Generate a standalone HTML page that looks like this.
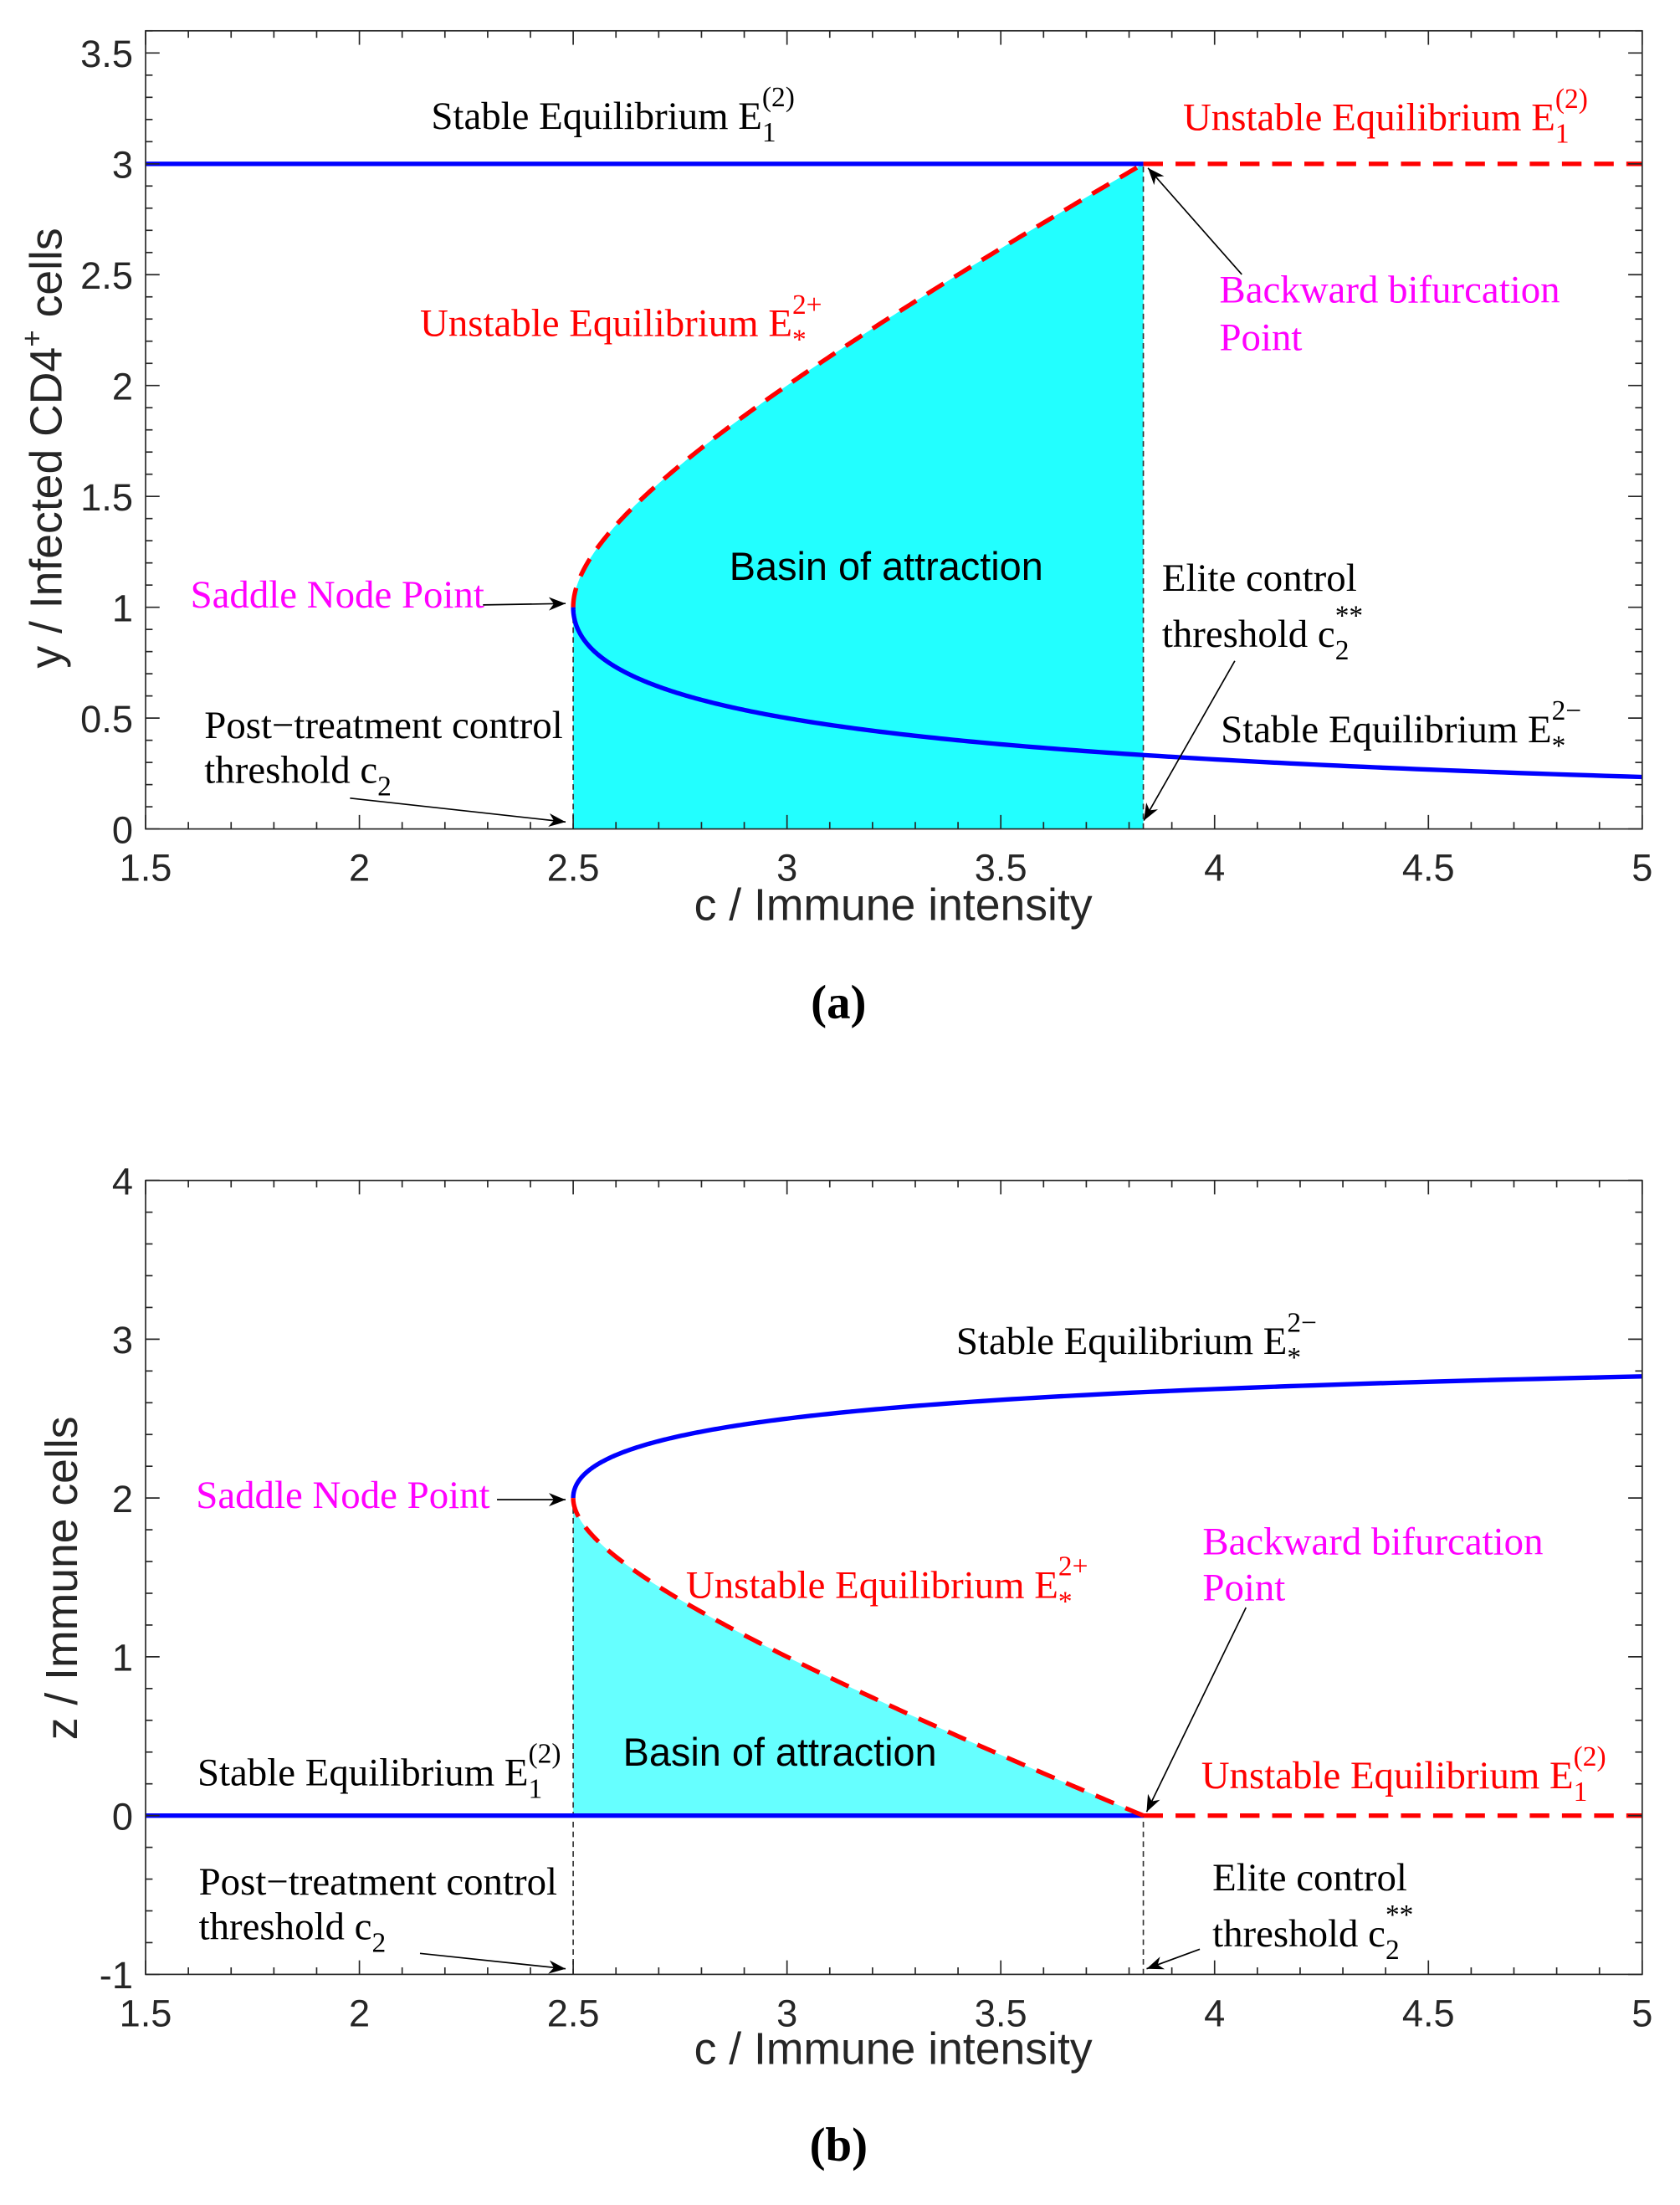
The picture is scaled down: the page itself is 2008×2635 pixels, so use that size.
<!DOCTYPE html>
<html><head><meta charset="utf-8">
<style>
html,body{margin:0;padding:0;background:#fff;}
svg{display:block;}
.tk{font-family:"Liberation Sans",sans-serif;font-size:27px;fill:#262626;}
.ax{font-family:"Liberation Sans",sans-serif;font-size:32px;fill:#262626;}
.sr{font-family:"Liberation Serif",serif;font-size:28px;}
.sub{font-size:20px;}
.ba{font-family:"Liberation Sans",sans-serif;font-size:28px;fill:#000;}
.cap{font-family:"Liberation Serif",serif;font-size:34px;font-weight:bold;}
</style></head>
<body>
<svg id="s" width="2008" height="2635" viewBox="0 0 1200 1574.7" xmlns="http://www.w3.org/2000/svg">
<defs>
<marker id="ar" viewBox="0 0 10 10" refX="10" refY="5" markerWidth="12" markerHeight="12" markerUnits="userSpaceOnUse" orient="auto">
<path d="M0,1 L10,5 L0,9 L3,5 z" fill="#000"/>
</marker>
</defs>
<g id="A"></g>
<g id="B"></g>

<text class="sr" x="308" y="92">Stable Equilibrium E<tspan class="sub" dy="9">1</tspan><tspan class="sub" dx="-10" dy="-25">(2)</tspan></text>
<text class="sr" x="845" y="93" fill="#f00">Unstable Equilibrium E<tspan class="sub" dy="9">1</tspan><tspan class="sub" dx="-10" dy="-25">(2)</tspan></text>
<text class="sr" x="871" y="216" fill="#f0f">Backward bifurcation</text>
<text class="sr" x="871" y="250" fill="#f0f">Point</text>
<text class="sr" x="300" y="240" fill="#f00">Unstable Equilibrium E<tspan class="sub" dy="9">*</tspan><tspan class="sub" dx="-10" dy="-25">2+</tspan></text>
<text class="ba" x="521" y="414">Basin of attraction</text>
<text class="sr" x="136" y="434" fill="#f0f">Saddle Node Point</text>
<text class="sr" x="830" y="422">Elite control</text>
<text class="sr" x="830" y="462">threshold c<tspan class="sub" dy="9">2</tspan><tspan class="sub" dx="-10" dy="-25">**</tspan></text>
<text class="sr" x="872" y="530">Stable Equilibrium E<tspan class="sub" dy="9">*</tspan><tspan class="sub" dx="-10" dy="-25">2−</tspan></text>
<text class="sr" x="146" y="527">Post−treatment control</text>
<text class="sr" x="146" y="559">threshold c<tspan class="sub" dy="9">2</tspan></text>
<g stroke="#000" stroke-width="1" fill="none" marker-end="url(#ar)">
<line x1="345" y1="432" x2="404" y2="431"/>
<line x1="250" y1="570" x2="404" y2="587"/>
<line x1="882" y1="472" x2="817" y2="586"/>
<line x1="887" y1="196" x2="820" y2="120"/>
</g>
<text class="ax" transform="translate(44,320) rotate(-90)" text-anchor="middle">y / Infected CD4<tspan font-size="21" dy="-14">+</tspan><tspan dy="14"> cells</tspan></text>
<text class="ax" x="638" y="657" text-anchor="middle">c / Immune intensity</text>
<text class="cap" x="599" y="727" text-anchor="middle">(a)</text>

<text class="sr" x="683" y="967">Stable Equilibrium E<tspan class="sub" dy="9">*</tspan><tspan class="sub" dx="-10" dy="-25">2−</tspan></text>
<text class="sr" x="140" y="1077" fill="#f0f">Saddle Node Point</text>
<text class="sr" x="859" y="1110" fill="#f0f">Backward bifurcation</text>
<text class="sr" x="859" y="1143" fill="#f0f">Point</text>
<text class="sr" x="490" y="1141" fill="#f00">Unstable Equilibrium E<tspan class="sub" dy="9">*</tspan><tspan class="sub" dx="-10" dy="-25">2+</tspan></text>
<text class="ba" x="445" y="1261">Basin of attraction</text>
<text class="sr" x="141" y="1275">Stable Equilibrium E<tspan class="sub" dy="9">1</tspan><tspan class="sub" dx="-10" dy="-25">(2)</tspan></text>
<text class="sr" x="858" y="1277" fill="#f00">Unstable Equilibrium E<tspan class="sub" dy="9">1</tspan><tspan class="sub" dx="-10" dy="-25">(2)</tspan></text>
<text class="sr" x="142" y="1353">Post−treatment control</text>
<text class="sr" x="142" y="1385">threshold c<tspan class="sub" dy="9">2</tspan></text>
<text class="sr" x="866" y="1350">Elite control</text>
<text class="sr" x="866" y="1390">threshold c<tspan class="sub" dy="9">2</tspan><tspan class="sub" dx="-10" dy="-25">**</tspan></text>
<g stroke="#000" stroke-width="1" fill="none" marker-end="url(#ar)">
<line x1="355" y1="1071" x2="404" y2="1071"/>
<line x1="300" y1="1395" x2="404" y2="1406"/>
<line x1="857" y1="1392" x2="819" y2="1406"/>
<line x1="890" y1="1148" x2="819" y2="1294"/>
</g>
<text class="ax" transform="translate(55,1127) rotate(-90)" text-anchor="middle">z / Immune cells</text>
<text class="ax" x="638" y="1474" text-anchor="middle">c / Immune intensity</text>
<text class="cap" x="599" y="1543" text-anchor="middle">(b)</text>
</svg>
<script>
(function(){
var NS="http://www.w3.org/2000/svg";
function el(p,t,a){var e=document.createElementNS(NS,t);for(var k in a)e.setAttribute(k,a[k]);p.appendChild(e);return e;}
var L=104,R=1173;
function X(c){return L+(c-1.5)*(R-L)/3.5;}
var cS=3+1/3+0.5;
function cy(y){return y+1/y+0.5;}
function plot(g,top,bot,ymin,ymax,major,minor,fy,isB){
  function Y(v){return bot-(v-ymin)*(bot-top)/(ymax-ymin);}
  var pts=[];
  pts.push([X(2.5),Y(0)]);
  for(var i=0;i<=200;i++){var y=1+2*i/200;var v=fy(y);pts.push([X(cy(y)),Y(v)]);}
  pts.push([X(cS),Y(0)]);
  el(g,"polygon",{points:pts.map(function(p){return p[0].toFixed(2)+","+p[1].toFixed(2)}).join(" "),fill:isB?"#66ffff":"#22ffff",stroke:"none"});
  var y0=isB?Y(-1):Y(0);
  el(g,"line",{x1:X(2.5),y1:y0,x2:X(2.5),y2:Y(fy(1)),stroke:"#333","stroke-width":1,"stroke-dasharray":"4,3"});
  el(g,"line",{x1:X(cS),y1:y0,x2:X(cS),y2:Y(fy(3)),stroke:"#333","stroke-width":1,"stroke-dasharray":"4,3"});
  var e1=isB?0:3;
  el(g,"line",{x1:L,y1:Y(e1),x2:X(cS),y2:Y(e1),stroke:"#0000ff","stroke-width":3.2});
  el(g,"line",{x1:X(cS),y1:Y(e1),x2:R,y2:Y(e1),stroke:"#ff0000","stroke-width":3.2,"stroke-dasharray":"14,9"});
  var d="";var ylo=(4.5-Math.sqrt(4.5*4.5-4))/2;
  for(var i=0;i<=300;i++){var y=ylo+(1-ylo)*i/300;d+=(i?"L":"M")+X(cy(y)).toFixed(2)+","+Y(fy(y)).toFixed(2);}
  el(g,"path",{d:d,fill:"none",stroke:"#0000ff","stroke-width":3.2});
  d="";
  for(var i=0;i<=300;i++){var y=1+2*i/300;d+=(i?"L":"M")+X(cy(y)).toFixed(2)+","+Y(fy(y)).toFixed(2);}
  el(g,"path",{d:d,fill:"none",stroke:"#ff0000","stroke-width":3.2,"stroke-dasharray":"14,9"});
  el(g,"rect",{x:L,y:top,width:R-L,height:bot-top,fill:"none",stroke:"#262626","stroke-width":1});
  for(var k=0;k<=35;k++){var c=1.5+k*0.1;var x=X(c);var mj=(k%5==0);var len=mj?10:5;
    el(g,"line",{x1:x,y1:bot,x2:x,y2:bot-len,stroke:"#262626","stroke-width":1});
    el(g,"line",{x1:x,y1:top,x2:x,y2:top+len,stroke:"#262626","stroke-width":1});
    if(mj){var t=el(g,"text",{x:x,y:bot+37,"text-anchor":"middle","class":"tk"});t.textContent=String(+c.toFixed(1));}
  }
  var n=Math.round((ymax-ymin)/minor);
  for(var k=0;k<=n;k++){var v=ymin+k*minor;var y=Y(v);var r=Math.round(v/major*1000)/1000;var mj=Math.abs(r-Math.round(r))<1e-6;var len=mj?10:5;
    el(g,"line",{x1:L,y1:y,x2:L+len,y2:y,stroke:"#262626","stroke-width":1});
    el(g,"line",{x1:R,y1:y,x2:R-len,y2:y,stroke:"#262626","stroke-width":1});
    if(mj){var t=el(g,"text",{x:L-9,y:y+10,"text-anchor":"end","class":"tk"});t.textContent=String(+v.toFixed(1));}
  }
}
plot(document.getElementById("A"),22,592,0,3.6,0.5,0.1,function(y){return y;},false);
plot(document.getElementById("B"),843,1410,-1,4,1,0.2,function(y){return 3-y;},true);
})();
</script>
</body></html>
